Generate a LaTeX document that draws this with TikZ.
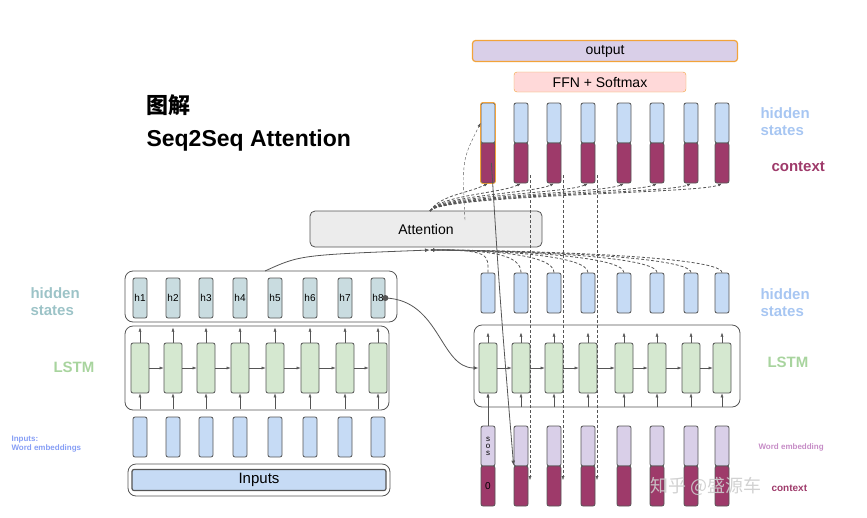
\documentclass[tikz,border=0pt]{standalone}
\usepackage{fontspec}
\setmainfont{Liberation Sans}
\newfontfamily\cjk{Noto Sans CJK SC}
\usetikzlibrary{arrows.meta,positioning,calc}
\definecolor{cblue}{HTML}{C6DBF5}
\definecolor{cteal}{HTML}{C9DCE0}
\definecolor{cgreen}{HTML}{D5E8D0}
\definecolor{cplum}{HTML}{9E3A6A}
\definecolor{clav}{HTML}{D9CFE8}
\definecolor{corange}{HTML}{F2A33A}
\definecolor{cline}{HTML}{555555}
\definecolor{tteal}{HTML}{9CC3C7}
\definecolor{tblue}{HTML}{A7C6F2}
\definecolor{tgreen}{HTML}{A8D49E}
\tikzset{
  cell/.style={draw=cline, thick, rounded corners=2pt, minimum width=14pt, minimum height=40pt, inner sep=0pt},
  lstm/.style={cell, fill=cgreen, minimum width=18pt, minimum height=50pt},
  frame/.style={draw=cline, thick, rounded corners=8pt},
  up/.style={-{Latex[length=4pt]}, cline},
  dsh/.style={densely dashed, cline, -{Latex[length=4pt]}},
  lbl/.style={font=\bfseries\fontsize{15}{17}\selectfont, align=left, anchor=west}
}
\begin{document}
\begin{tikzpicture}[x=1pt, y=-1pt]
  \useasboundingbox (0,0) rectangle (867,517);
  % title
  \node[lbl, font=\cjk\bfseries\fontsize{22}{24}\selectfont] (t1) at (143,105) {图解};
  \node[lbl, font=\bfseries\fontsize{23}{26}\selectfont] (t2) at (143,141) {Seq2Seq Attention};
  % encoder
  \draw[frame] (125,271) rectangle (397,322);
  \draw[frame] (125,326) rectangle (389,410);
  \node[frame, minimum width=262pt, minimum height=32pt] (inbox) at (259,480) {};
  \node[draw=cline, very thick, rounded corners=2pt, fill=cblue, minimum width=254pt, minimum height=21pt,
        font=\fontsize{15}{17}\selectfont] (inputs) at (259,480) {Inputs};
  \foreach \x [count=\i] in {140,173,206,240,275,310,345,378} {
    \node[cell, fill=cteal, font=\fontsize{10}{12}\selectfont] (h\i) at (\x,298) {h\i};
    \node[lstm] (e\i) at (\x,368) {};
    \node[cell, fill=cblue] (w\i) at (\x,437) {};
    \draw[up] (w\i.north) ++(0,-8) -- (e\i.south);
    \draw[up] (e\i.north) -- ++(0,-15);
  }
  \foreach \i [evaluate=\i as \j using int(\i+1)] in {1,...,7}
    \draw[up] (e\i.east) -- (e\j.west);
  % decoder
  \draw[frame] (474,325) rectangle (740,407);
  \foreach \x [count=\i] in {488,521,554,588,624,657,691,722} {
    \node[cell, fill=cblue] (d\i) at (\x,293) {};
    \node[lstm] (l\i) at (\x,368) {};
    \node[cell, fill=clav] (v\i) at (\x,446) {};
    \node[cell, fill=cplum] (c\i) at (\x,486) {};
    \node[cell, fill=cblue, minimum height=40pt] (o\i) at (\x,123) {};
    \node[cell, fill=cplum] (k\i) at (\x,163) {};
    \draw[up] (l\i.north) -- ++(0,-10);
    \draw[up] (l\i.south) ++(0,14) -- (l\i.south);
  }
  \foreach \i [evaluate=\i as \j using int(\i+1)] in {1,...,7}
    \draw[up] (l\i.east) -- (l\j.west);
  \draw[corange, thick, rounded corners=2pt] (o1.north west) rectangle (k1.south east);
  \node[font=\fontsize{8}{9}\selectfont, align=center] (sos) at (v1) {s\\[-2pt]o\\[-2pt]s};
  \node[font=\fontsize{10}{12}\selectfont] (zero) at (c1) {0};
  \draw[up, thick] (v1.north) -- (l1.south);
  % top
  \node[draw=corange, very thick, fill=clav, rounded corners=3pt, minimum width=265pt, minimum height=21pt,
        font=\fontsize{14}{16}\selectfont] (out) at (605,51) {output};
  \node[draw=corange, fill=red!15, rounded corners=3pt, minimum width=172pt, minimum height=20pt,
        font=\fontsize{14}{16}\selectfont] (ffn) at (600,82) {FFN + Softmax};
  \node[draw=cline, thick, fill=gray!15, rounded corners=5pt, minimum width=232pt, minimum height=36pt,
        font=\fontsize{14}{16}\selectfont] (att) at (426,229) {Attention};
  % labels
  \node[lbl, text=tteal] (lh) at (27,302) {hidden\\states};
  \node[lbl, text=tgreen] (ll) at (50,367) {LSTM};
  \node[lbl, font=\bfseries\fontsize{8}{9}\selectfont, text=tblue!80!blue] (li) at (8,444) {Inputs:\\Word embeddings};
  \node[lbl, text=tblue] (rh) at (757,303) {hidden\\states};
  \node[lbl, text=tgreen] (rl) at (764,362) {LSTM};
  \node[lbl, font=\bfseries\fontsize{8}{9}\selectfont, text=violet!45] (rw) at (755,447) {Word embedding};
  \node[lbl, font=\bfseries\fontsize{10}{12}\selectfont, text=cplum] (rc) at (768,488) {context};
  \node[lbl, text=tblue] (th) at (757,122) {hidden\\states};
  \node[lbl, text=cplum] (tc) at (768,167) {context};
  % connectors
  \coordinate (hin) at (430,250);
  \coordinate (hout) at (430,211);
  \draw[-{Latex[length=5pt]}, cline, thick] (265,271) .. controls (300,255) .. (hin);
  \draw[-{Latex[length=5pt]}, cline, thick] (h8.east) .. controls (440,300) and (440,368) .. (l1.west);
  \fill[cline] (h8.east) circle (3pt);
  \foreach \i in {1,...,8}
    \draw[dsh, thick] (d\i.north) .. controls +(0,-18) and +(60,0) .. (hin);
  \foreach \i in {1,...,8}
    \draw[dsh, thick] (hout) .. controls (440,195) and ($(k\i.south)+(-20,10)$) .. (k\i.south);
  \draw[dsh] (465,220) .. controls (462,160) .. (o1.west);
  \draw[-{Latex[length=5pt]}, cline, thick] (k1.east) ++(-4,0) .. controls (500,300) .. (c2.north west);
  \foreach \i/\x in {3/530,4/563,5/597}
    \draw[dsh] (\x,175) -- (\x,480);
  % watermark
  \node[font=\cjk\fontsize{18}{20}\selectfont, text=gray!40, opacity=0.9, anchor=east] (wm) at (765,486) {知乎 @盛源车};
\end{tikzpicture}
\end{document}
